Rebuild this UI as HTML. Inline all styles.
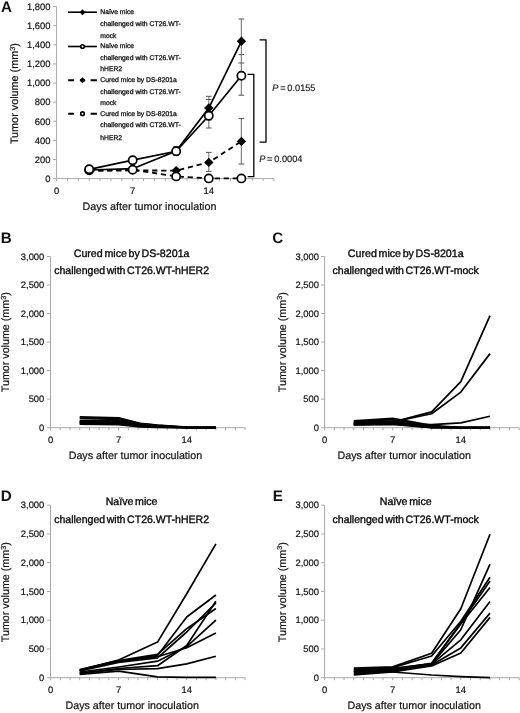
<!DOCTYPE html>
<html lang="en">
<head>
<meta charset="utf-8">
<title>Figure</title>
<style>
html,body{margin:0;padding:0;background:#fff;}
body{width:520px;height:713px;overflow:hidden;}
svg{display:block;font-family:'Liberation Sans', Arial, Helvetica, sans-serif;}
svg text{fill:#111;}
</style>
</head>
<body>
<svg width="520" height="713" viewBox="0 0 520 713" text-rendering="geometricPrecision" font-family="'Liberation Sans', Arial, Helvetica, sans-serif">
<rect width="520" height="713" fill="#fff"/>
<g id="panelA">
<text x="1.0" y="11.8" font-size="15.2" text-anchor="start" font-weight="bold">A</text>
<g stroke="#a8a8a8" stroke-width="1" fill="none">
<path d="M56.6 6.6V178.6H274.0"/>
<path d="M53.1 178.60H56.6M53.1 159.49H56.6M53.1 140.38H56.6M53.1 121.27H56.6M53.1 102.16H56.6M53.1 83.04H56.6M53.1 63.93H56.6M53.1 44.82H56.6M53.1 25.71H56.6M53.1 6.60H56.6M56.60 178.6v2.5M67.47 178.6v2.5M78.34 178.6v2.5M89.21 178.6v2.5M100.08 178.6v2.5M110.95 178.6v2.5M121.82 178.6v2.5M132.69 178.6v2.5M143.56 178.6v2.5M154.43 178.6v2.5M165.30 178.6v2.5M176.17 178.6v2.5M187.04 178.6v2.5M197.91 178.6v2.5M208.78 178.6v2.5M219.65 178.6v2.5M230.52 178.6v2.5M241.39 178.6v2.5M252.26 178.6v2.5M263.13 178.6v2.5M274.00 178.6v2.5"/>
</g>
<text x="50.4" y="181.85" font-size="9.4" text-anchor="end" stroke="#111" stroke-width="0.2">0</text>
<text x="50.4" y="162.74" font-size="9.4" text-anchor="end" stroke="#111" stroke-width="0.2">200</text>
<text x="50.4" y="143.63" font-size="9.4" text-anchor="end" stroke="#111" stroke-width="0.2">400</text>
<text x="50.4" y="124.52" font-size="9.4" text-anchor="end" stroke="#111" stroke-width="0.2">600</text>
<text x="50.4" y="105.41" font-size="9.4" text-anchor="end" stroke="#111" stroke-width="0.2">800</text>
<text x="50.4" y="86.29" font-size="9.4" text-anchor="end" stroke="#111" stroke-width="0.2">1,000</text>
<text x="50.4" y="67.18" font-size="9.4" text-anchor="end" stroke="#111" stroke-width="0.2">1,200</text>
<text x="50.4" y="48.07" font-size="9.4" text-anchor="end" stroke="#111" stroke-width="0.2">1,400</text>
<text x="50.4" y="28.96" font-size="9.4" text-anchor="end" stroke="#111" stroke-width="0.2">1,600</text>
<text x="50.4" y="9.85" font-size="9.4" text-anchor="end" stroke="#111" stroke-width="0.2">1,800</text>
<text x="56.6" y="193.9" font-size="9.4" text-anchor="middle" stroke="#111" stroke-width="0.2">0</text>
<text x="132.69" y="193.9" font-size="9.4" text-anchor="middle" stroke="#111" stroke-width="0.2">7</text>
<text x="208.78" y="193.9" font-size="9.4" text-anchor="middle" stroke="#111" stroke-width="0.2">14</text>
<text x="18.0" y="93.6" font-size="10.8" text-anchor="middle" textLength="101" lengthAdjust="spacingAndGlyphs" transform="rotate(-90 18.0 93.6)" stroke="#111" stroke-width="0.2">Tumor volume (mm<tspan font-size="7.3" dy="-3.4">3</tspan><tspan dy="3.4">)</tspan></text>
<text x="149.5" y="209.9" font-size="10.8" text-anchor="middle" textLength="134" lengthAdjust="spacingAndGlyphs" stroke="#111" stroke-width="0.2">Days after tumor inoculation</text>
<path d="M241.39 19.0V63.0M241.39 54.6V95.2M208.78 96.3V128.0M208.78 99.5V120.0M208.78 152.4V171.4M241.39 118.6V164.0M176.17 146.5V155.5M132.69 156.5V164" stroke="#858585" stroke-width="1.2" fill="none"/>
<path d="M238.48999999999998 19.0h5.8M238.48999999999998 63.0h5.8M238.48999999999998 54.6h5.8M238.48999999999998 95.2h5.8M205.88 96.3h5.8M205.88 128.0h5.8M205.88 99.5h5.8M205.88 120.0h5.8M205.88 152.4h5.8M205.88 171.4h5.8M238.48999999999998 118.6h5.8M238.48999999999998 164.0h5.8M173.26999999999998 146.5h5.8M173.26999999999998 155.5h5.8M129.79 156.5h5.8M129.79 164h5.8" stroke="#555" stroke-width="1" fill="none"/>
<polyline points="89.21,171.0 132.69,170.4 176.17,170.6 208.78,162.4 241.39,141.4" fill="none" stroke="#000" stroke-width="1.8" stroke-dasharray="5.2 3.8"/>
<polyline points="89.21,170.3 132.69,169.8 176.17,176.4 208.78,178.4 241.39,178.4" fill="none" stroke="#000" stroke-width="1.8" stroke-dasharray="5.2 3.8"/>
<polyline points="89.21,170.0 132.69,168.7 176.17,151.0 208.78,108.0 241.39,41.3" fill="none" stroke="#000" stroke-width="1.7"/>
<polyline points="89.21,169.3 132.69,160.2 176.17,151.3 208.78,115.8 241.39,75.7" fill="none" stroke="#000" stroke-width="1.7"/>
<path d="M176.17 165.9L180.86999999999998 170.6L176.17 175.29999999999998L171.47 170.6Z" fill="#000"/>
<path d="M208.78 157.70000000000002L213.48 162.4L208.78 167.1L204.08 162.4Z" fill="#000"/>
<path d="M241.39 136.70000000000002L246.08999999999997 141.4L241.39 146.1L236.69 141.4Z" fill="#000"/>
<path d="M208.78 103.3L213.48 108.0L208.78 112.7L204.08 108.0Z" fill="#000"/>
<path d="M241.39 36.599999999999994L246.08999999999997 41.3L241.39 46.0L236.69 41.3Z" fill="#000"/>
<circle cx="89.21" cy="170.3" r="4.1" fill="#fff" stroke="#000" stroke-width="1.7"/>
<circle cx="132.69" cy="169.8" r="4.1" fill="#fff" stroke="#000" stroke-width="1.7"/>
<circle cx="176.17" cy="176.4" r="4.1" fill="#fff" stroke="#000" stroke-width="1.7"/>
<circle cx="208.78" cy="178.4" r="4.1" fill="#fff" stroke="#000" stroke-width="1.7"/>
<circle cx="241.39" cy="178.4" r="4.1" fill="#fff" stroke="#000" stroke-width="1.7"/>
<circle cx="89.21" cy="169.3" r="4.1" fill="#fff" stroke="#000" stroke-width="1.7"/>
<circle cx="132.69" cy="160.2" r="4.1" fill="#fff" stroke="#000" stroke-width="1.7"/>
<circle cx="176.17" cy="151.3" r="4.1" fill="#fff" stroke="#000" stroke-width="1.7"/>
<circle cx="208.78" cy="115.8" r="4.1" fill="#fff" stroke="#000" stroke-width="1.7"/>
<circle cx="241.39" cy="75.7" r="4.1" fill="#fff" stroke="#000" stroke-width="1.7"/>
<path d="M259.6 39.9H266V142.2H259.6M247.6 74.3H253.8V176.6H247.6" fill="none" stroke="#000" stroke-width="1.3"/>
<text x="272.3" y="91.3" font-size="9.4" text-anchor="start" textLength="43.2" lengthAdjust="spacingAndGlyphs" word-spacing="-0.8" stroke="#111" stroke-width="0.15"><tspan font-style="italic">P</tspan> = 0.0155</text>
<text x="259.2" y="161.6" font-size="9.4" text-anchor="start" textLength="43.2" lengthAdjust="spacingAndGlyphs" word-spacing="-0.8" stroke="#111" stroke-width="0.15"><tspan font-style="italic">P</tspan> = 0.0004</text>
<path d="M68 12.2H97" stroke="#000" stroke-width="1.6" fill="none"/>
<path d="M82.5 9.2L85.5 12.2L82.5 15.2L79.5 12.2Z" fill="#000"/>
<path d="M68 46.5H97" stroke="#000" stroke-width="1.6" fill="none"/>
<circle cx="82.5" cy="46.5" r="1.8" fill="#fff" stroke="#000" stroke-width="1.6"/>
<path d="M68.2 80.3H74M80 80.3H85M90.6 80.3H96.9" stroke="#000" stroke-width="1.9" fill="none"/>
<path d="M82.5 77.3L85.5 80.3L82.5 83.3L79.5 80.3Z" fill="#000"/>
<path d="M68.2 113.7H74M80 113.7H85M90.6 113.7H96.9" stroke="#000" stroke-width="1.9" fill="none"/>
<circle cx="82.5" cy="113.7" r="1.8" fill="#fff" stroke="#000" stroke-width="1.6"/>
<text x="100.3" y="13.9" font-size="6.8" text-anchor="start" textLength="33.8" lengthAdjust="spacingAndGlyphs" stroke="#000" stroke-width="0.25">Naïve mice</text>
<text x="100.3" y="26.0" font-size="6.8" text-anchor="start" textLength="80.5" lengthAdjust="spacingAndGlyphs" stroke="#000" stroke-width="0.25">challenged with CT26.WT-</text>
<text x="100.3" y="38.15" font-size="6.8" text-anchor="start" textLength="16.2" lengthAdjust="spacingAndGlyphs" stroke="#000" stroke-width="0.25">mock</text>
<text x="100.3" y="48.3" font-size="6.8" text-anchor="start" textLength="33.8" lengthAdjust="spacingAndGlyphs" stroke="#000" stroke-width="0.25">Naïve mice</text>
<text x="100.3" y="60.4" font-size="6.8" text-anchor="start" textLength="80.5" lengthAdjust="spacingAndGlyphs" stroke="#000" stroke-width="0.25">challenged with CT26.WT-</text>
<text x="100.3" y="71.4" font-size="6.8" text-anchor="start" textLength="21.8" lengthAdjust="spacingAndGlyphs" stroke="#000" stroke-width="0.25">hHER2</text>
<text x="100.3" y="82.4" font-size="6.8" text-anchor="start" textLength="76.5" lengthAdjust="spacingAndGlyphs" stroke="#000" stroke-width="0.25">Cured mice by DS-8201a</text>
<text x="100.3" y="93.65" font-size="6.8" text-anchor="start" textLength="80.5" lengthAdjust="spacingAndGlyphs" stroke="#000" stroke-width="0.25">challenged with CT26.WT-</text>
<text x="100.3" y="105.4" font-size="6.8" text-anchor="start" textLength="16.2" lengthAdjust="spacingAndGlyphs" stroke="#000" stroke-width="0.25">mock</text>
<text x="100.3" y="115.8" font-size="6.8" text-anchor="start" textLength="76.5" lengthAdjust="spacingAndGlyphs" stroke="#000" stroke-width="0.25">Cured mice by DS-8201a</text>
<text x="100.3" y="127.4" font-size="6.8" text-anchor="start" textLength="80.5" lengthAdjust="spacingAndGlyphs" stroke="#000" stroke-width="0.25">challenged with CT26.WT-</text>
<text x="100.3" y="139.5" font-size="6.8" text-anchor="start" textLength="21.8" lengthAdjust="spacingAndGlyphs" stroke="#000" stroke-width="0.25">hHER2</text>
</g>
<g id="panelB">
<text x="0.7" y="243.3" font-size="15.2" text-anchor="start" font-weight="bold">B</text>
<g stroke="#a8a8a8" stroke-width="1" fill="none">
<path d="M50.5 256.5V427.7H245.1"/>
<path d="M47.0 427.70H50.5M47.0 399.17H50.5M47.0 370.63H50.5M47.0 342.10H50.5M47.0 313.57H50.5M47.0 285.03H50.5M47.0 256.50H50.5M50.50 427.7v2.5M60.23 427.7v2.5M69.96 427.7v2.5M79.69 427.7v2.5M89.42 427.7v2.5M99.15 427.7v2.5M108.88 427.7v2.5M118.61 427.7v2.5M128.34 427.7v2.5M138.07 427.7v2.5M147.80 427.7v2.5M157.53 427.7v2.5M167.26 427.7v2.5M176.99 427.7v2.5M186.72 427.7v2.5M196.45 427.7v2.5M206.18 427.7v2.5M215.91 427.7v2.5M225.64 427.7v2.5M235.37 427.7v2.5M245.10 427.7v2.5"/>
</g>
<text x="44.3" y="430.95" font-size="9.4" text-anchor="end" stroke="#111" stroke-width="0.2">0</text>
<text x="44.3" y="402.42" font-size="9.4" text-anchor="end" stroke="#111" stroke-width="0.2">500</text>
<text x="44.3" y="373.88" font-size="9.4" text-anchor="end" stroke="#111" stroke-width="0.2">1,000</text>
<text x="44.3" y="345.35" font-size="9.4" text-anchor="end" stroke="#111" stroke-width="0.2">1,500</text>
<text x="44.3" y="316.82" font-size="9.4" text-anchor="end" stroke="#111" stroke-width="0.2">2,000</text>
<text x="44.3" y="288.28" font-size="9.4" text-anchor="end" stroke="#111" stroke-width="0.2">2,500</text>
<text x="44.3" y="259.75" font-size="9.4" text-anchor="end" stroke="#111" stroke-width="0.2">3,000</text>
<text x="50.5" y="443.0" font-size="9.4" text-anchor="middle" stroke="#111" stroke-width="0.2">0</text>
<text x="118.61" y="443.0" font-size="9.4" text-anchor="middle" stroke="#111" stroke-width="0.2">7</text>
<text x="186.72" y="443.0" font-size="9.4" text-anchor="middle" stroke="#111" stroke-width="0.2">14</text>
<text x="9.399999999999999" y="342.2" font-size="10.8" text-anchor="middle" textLength="100" lengthAdjust="spacingAndGlyphs" transform="rotate(-90 9.399999999999999 342.2)" stroke="#111" stroke-width="0.2">Tumor volume (mm<tspan font-size="7.3" dy="-3.4">3</tspan><tspan dy="3.4">)</tspan></text>
<text x="131.6" y="256.7" font-size="10.8" text-anchor="middle" textLength="115.8" lengthAdjust="spacingAndGlyphs" stroke="#000" stroke-width="0.35" word-spacing="-1.3">Cured mice by DS-8201a</text>
<text x="131.6" y="273.9" font-size="10.8" text-anchor="middle" textLength="154.8" lengthAdjust="spacingAndGlyphs" stroke="#000" stroke-width="0.35" word-spacing="-1.3">challenged with CT26.WT-hHER2</text>
<text x="135.4" y="458.9" font-size="10.8" text-anchor="middle" textLength="133.5" lengthAdjust="spacingAndGlyphs" stroke="#111" stroke-width="0.2">Days after tumor inoculation</text>
<polyline points="79.69,416.97 118.61,417.88 140.02,423.42 157.53,425.13 186.72,427.13 215.91,427.70" fill="none" stroke="#000" stroke-width="1.7" stroke-linejoin="round"/>
<polyline points="79.69,418.28 118.61,418.28 140.02,423.71 157.53,425.42 186.72,427.24 215.91,427.70" fill="none" stroke="#000" stroke-width="1.7" stroke-linejoin="round"/>
<polyline points="79.69,420.57 118.61,419.71 140.02,424.28 157.53,425.70 186.72,427.41 215.91,427.70" fill="none" stroke="#000" stroke-width="1.7" stroke-linejoin="round"/>
<polyline points="79.69,421.31 118.61,420.85 140.02,424.85 157.53,425.99 186.72,427.41 215.91,427.70" fill="none" stroke="#000" stroke-width="1.7" stroke-linejoin="round"/>
<polyline points="79.69,421.99 118.61,421.99 140.02,425.13 157.53,426.27 186.72,427.70 215.91,427.70" fill="none" stroke="#000" stroke-width="1.7" stroke-linejoin="round"/>
<polyline points="79.69,422.68 118.61,422.85 140.02,425.70 157.53,426.67 186.72,427.70 215.91,427.70" fill="none" stroke="#000" stroke-width="1.7" stroke-linejoin="round"/>
<polyline points="79.69,423.42 118.61,423.71 140.02,426.27 157.53,427.13 186.72,427.70 215.91,427.70" fill="none" stroke="#000" stroke-width="1.7" stroke-linejoin="round"/>
<polyline points="79.69,424.16 118.61,424.56 140.02,426.84 157.53,427.41 186.72,427.70 215.91,427.70" fill="none" stroke="#000" stroke-width="1.7" stroke-linejoin="round"/>
</g>
<g id="panelC">
<text x="272.3" y="243.3" font-size="15.2" text-anchor="start" font-weight="bold">C</text>
<g stroke="#a8a8a8" stroke-width="1" fill="none">
<path d="M324.6 256.5V427.7H519.2"/>
<path d="M321.1 427.70H324.6M321.1 399.17H324.6M321.1 370.63H324.6M321.1 342.10H324.6M321.1 313.57H324.6M321.1 285.03H324.6M321.1 256.50H324.6M324.60 427.7v2.5M334.33 427.7v2.5M344.06 427.7v2.5M353.79 427.7v2.5M363.52 427.7v2.5M373.25 427.7v2.5M382.98 427.7v2.5M392.71 427.7v2.5M402.44 427.7v2.5M412.17 427.7v2.5M421.90 427.7v2.5M431.63 427.7v2.5M441.36 427.7v2.5M451.09 427.7v2.5M460.82 427.7v2.5M470.55 427.7v2.5M480.28 427.7v2.5M490.01 427.7v2.5M499.74 427.7v2.5M509.47 427.7v2.5M519.20 427.7v2.5"/>
</g>
<text x="319.0" y="430.95" font-size="9.4" text-anchor="end" stroke="#111" stroke-width="0.2">0</text>
<text x="319.0" y="402.42" font-size="9.4" text-anchor="end" stroke="#111" stroke-width="0.2">500</text>
<text x="319.0" y="373.88" font-size="9.4" text-anchor="end" stroke="#111" stroke-width="0.2">1,000</text>
<text x="319.0" y="345.35" font-size="9.4" text-anchor="end" stroke="#111" stroke-width="0.2">1,500</text>
<text x="319.0" y="316.82" font-size="9.4" text-anchor="end" stroke="#111" stroke-width="0.2">2,000</text>
<text x="319.0" y="288.28" font-size="9.4" text-anchor="end" stroke="#111" stroke-width="0.2">2,500</text>
<text x="319.0" y="259.75" font-size="9.4" text-anchor="end" stroke="#111" stroke-width="0.2">3,000</text>
<text x="324.6" y="443.0" font-size="9.4" text-anchor="middle" stroke="#111" stroke-width="0.2">0</text>
<text x="392.71" y="443.0" font-size="9.4" text-anchor="middle" stroke="#111" stroke-width="0.2">7</text>
<text x="460.82" y="443.0" font-size="9.4" text-anchor="middle" stroke="#111" stroke-width="0.2">14</text>
<text x="285.8" y="342.2" font-size="10.8" text-anchor="middle" textLength="100" lengthAdjust="spacingAndGlyphs" transform="rotate(-90 285.8 342.2)" stroke="#111" stroke-width="0.2">Tumor volume (mm<tspan font-size="7.3" dy="-3.4">3</tspan><tspan dy="3.4">)</tspan></text>
<text x="405.70000000000005" y="256.7" font-size="10.8" text-anchor="middle" textLength="115.8" lengthAdjust="spacingAndGlyphs" stroke="#000" stroke-width="0.35" word-spacing="-1.3">Cured mice by DS-8201a</text>
<text x="405.70000000000005" y="273.9" font-size="10.8" text-anchor="middle" textLength="146.4" lengthAdjust="spacingAndGlyphs" stroke="#000" stroke-width="0.35" word-spacing="-1.3">challenged with CT26.WT-mock</text>
<text x="404.2" y="458.9" font-size="10.8" text-anchor="middle" textLength="133.5" lengthAdjust="spacingAndGlyphs" stroke="#111" stroke-width="0.2">Days after tumor inoculation</text>
<polyline points="353.79,423.71 392.71,422.16 431.63,411.89 460.82,381.65 490.01,315.68" fill="none" stroke="#000" stroke-width="1.7" stroke-linejoin="round"/>
<polyline points="353.79,424.28 392.71,421.99 431.63,413.78 460.82,392.09 490.01,353.63" fill="none" stroke="#000" stroke-width="1.7" stroke-linejoin="round"/>
<polyline points="353.79,424.56 392.71,424.16 431.63,424.56 460.82,422.85 490.01,416.29" fill="none" stroke="#000" stroke-width="1.7" stroke-linejoin="round"/>
<polyline points="353.79,420.97 392.71,418.28 431.63,425.42 460.82,427.70 490.01,427.70" fill="none" stroke="#000" stroke-width="1.7" stroke-linejoin="round"/>
<polyline points="353.79,421.71 392.71,419.71 431.63,426.27 460.82,427.70 490.01,427.70" fill="none" stroke="#000" stroke-width="1.7" stroke-linejoin="round"/>
<polyline points="353.79,422.45 392.71,421.14 431.63,427.13 460.82,427.70 490.01,427.70" fill="none" stroke="#000" stroke-width="1.7" stroke-linejoin="round"/>
<polyline points="353.79,423.13 392.71,422.28 431.63,426.56 460.82,427.70 490.01,427.70" fill="none" stroke="#000" stroke-width="1.7" stroke-linejoin="round"/>
<polyline points="353.79,423.82 392.71,423.13 431.63,427.41 460.82,427.70 490.01,427.70" fill="none" stroke="#000" stroke-width="1.7" stroke-linejoin="round"/>
<polyline points="353.79,424.39 392.71,423.82 431.63,427.70 460.82,427.70 490.01,427.70" fill="none" stroke="#000" stroke-width="1.7" stroke-linejoin="round"/>
<polyline points="353.79,424.85 392.71,424.28 431.63,427.70 460.82,427.70 490.01,427.70" fill="none" stroke="#000" stroke-width="1.7" stroke-linejoin="round"/>
</g>
<g id="panelD">
<text x="0.7" y="501.2" font-size="15.2" text-anchor="start" font-weight="bold">D</text>
<g stroke="#a8a8a8" stroke-width="1" fill="none">
<path d="M50.5 505.2V677.7H245.1"/>
<path d="M47.0 677.70H50.5M47.0 648.95H50.5M47.0 620.20H50.5M47.0 591.45H50.5M47.0 562.70H50.5M47.0 533.95H50.5M47.0 505.20H50.5M50.50 677.7v2.5M60.23 677.7v2.5M69.96 677.7v2.5M79.69 677.7v2.5M89.42 677.7v2.5M99.15 677.7v2.5M108.88 677.7v2.5M118.61 677.7v2.5M128.34 677.7v2.5M138.07 677.7v2.5M147.80 677.7v2.5M157.53 677.7v2.5M167.26 677.7v2.5M176.99 677.7v2.5M186.72 677.7v2.5M196.45 677.7v2.5M206.18 677.7v2.5M215.91 677.7v2.5M225.64 677.7v2.5M235.37 677.7v2.5M245.10 677.7v2.5"/>
</g>
<text x="44.3" y="680.95" font-size="9.4" text-anchor="end" stroke="#111" stroke-width="0.2">0</text>
<text x="44.3" y="652.2" font-size="9.4" text-anchor="end" stroke="#111" stroke-width="0.2">500</text>
<text x="44.3" y="623.45" font-size="9.4" text-anchor="end" stroke="#111" stroke-width="0.2">1,000</text>
<text x="44.3" y="594.7" font-size="9.4" text-anchor="end" stroke="#111" stroke-width="0.2">1,500</text>
<text x="44.3" y="565.95" font-size="9.4" text-anchor="end" stroke="#111" stroke-width="0.2">2,000</text>
<text x="44.3" y="537.2" font-size="9.4" text-anchor="end" stroke="#111" stroke-width="0.2">2,500</text>
<text x="44.3" y="508.45" font-size="9.4" text-anchor="end" stroke="#111" stroke-width="0.2">3,000</text>
<text x="50.5" y="693.0" font-size="9.4" text-anchor="middle" stroke="#111" stroke-width="0.2">0</text>
<text x="118.61" y="693.0" font-size="9.4" text-anchor="middle" stroke="#111" stroke-width="0.2">7</text>
<text x="186.72" y="693.0" font-size="9.4" text-anchor="middle" stroke="#111" stroke-width="0.2">14</text>
<text x="9.399999999999999" y="592.2" font-size="10.8" text-anchor="middle" textLength="100" lengthAdjust="spacingAndGlyphs" transform="rotate(-90 9.399999999999999 592.2)" stroke="#111" stroke-width="0.2">Tumor volume (mm<tspan font-size="7.3" dy="-3.4">3</tspan><tspan dy="3.4">)</tspan></text>
<text x="131.6" y="505.4" font-size="10.8" text-anchor="middle" textLength="51.8" lengthAdjust="spacingAndGlyphs" stroke="#000" stroke-width="0.35" word-spacing="-1.3">Naïve mice</text>
<text x="131.6" y="522.6" font-size="10.8" text-anchor="middle" textLength="154.8" lengthAdjust="spacingAndGlyphs" stroke="#000" stroke-width="0.35" word-spacing="-1.3">challenged with CT26.WT-hHER2</text>
<text x="132.2" y="708.9" font-size="10.8" text-anchor="middle" textLength="133.5" lengthAdjust="spacingAndGlyphs" stroke="#111" stroke-width="0.2">Days after tumor inoculation</text>
<polyline points="79.69,670.00 118.61,660.00 157.53,642.10 186.72,593.80 215.91,543.90" fill="none" stroke="#000" stroke-width="1.7" stroke-linejoin="round"/>
<polyline points="79.69,670.50 118.61,661.00 157.53,655.60 186.72,617.00 215.91,595.00" fill="none" stroke="#000" stroke-width="1.7" stroke-linejoin="round"/>
<polyline points="79.69,673.00 118.61,668.50 157.53,665.70 186.72,645.50 215.91,601.30" fill="none" stroke="#000" stroke-width="1.7" stroke-linejoin="round"/>
<polyline points="79.69,671.00 118.61,662.50 157.53,657.80 186.72,632.00 215.91,602.90" fill="none" stroke="#000" stroke-width="1.7" stroke-linejoin="round"/>
<polyline points="79.69,669.50 118.61,660.50 157.53,654.40 186.72,628.70 215.91,608.50" fill="none" stroke="#000" stroke-width="1.7" stroke-linejoin="round"/>
<polyline points="79.69,672.00 118.61,667.00 157.53,661.20 186.72,646.60 215.91,620.10" fill="none" stroke="#000" stroke-width="1.7" stroke-linejoin="round"/>
<polyline points="79.69,670.50 118.61,661.50 157.53,656.70 186.72,647.70 215.91,633.10" fill="none" stroke="#000" stroke-width="1.7" stroke-linejoin="round"/>
<polyline points="79.69,673.50 118.61,669.50 157.53,668.60 186.72,663.90 215.91,656.20" fill="none" stroke="#000" stroke-width="1.7" stroke-linejoin="round"/>
<polyline points="79.69,674.40 118.61,671.20 157.53,676.90 186.72,677.30 215.91,677.30" fill="none" stroke="#000" stroke-width="1.7" stroke-linejoin="round"/>
</g>
<g id="panelE">
<text x="272.8" y="501.2" font-size="15.2" text-anchor="start" font-weight="bold">E</text>
<g stroke="#a8a8a8" stroke-width="1" fill="none">
<path d="M324.6 505.2V677.7H519.2"/>
<path d="M321.1 677.70H324.6M321.1 648.95H324.6M321.1 620.20H324.6M321.1 591.45H324.6M321.1 562.70H324.6M321.1 533.95H324.6M321.1 505.20H324.6M324.60 677.7v2.5M334.33 677.7v2.5M344.06 677.7v2.5M353.79 677.7v2.5M363.52 677.7v2.5M373.25 677.7v2.5M382.98 677.7v2.5M392.71 677.7v2.5M402.44 677.7v2.5M412.17 677.7v2.5M421.90 677.7v2.5M431.63 677.7v2.5M441.36 677.7v2.5M451.09 677.7v2.5M460.82 677.7v2.5M470.55 677.7v2.5M480.28 677.7v2.5M490.01 677.7v2.5M499.74 677.7v2.5M509.47 677.7v2.5M519.20 677.7v2.5"/>
</g>
<text x="319.0" y="680.95" font-size="9.4" text-anchor="end" stroke="#111" stroke-width="0.2">0</text>
<text x="319.0" y="652.2" font-size="9.4" text-anchor="end" stroke="#111" stroke-width="0.2">500</text>
<text x="319.0" y="623.45" font-size="9.4" text-anchor="end" stroke="#111" stroke-width="0.2">1,000</text>
<text x="319.0" y="594.7" font-size="9.4" text-anchor="end" stroke="#111" stroke-width="0.2">1,500</text>
<text x="319.0" y="565.95" font-size="9.4" text-anchor="end" stroke="#111" stroke-width="0.2">2,000</text>
<text x="319.0" y="537.2" font-size="9.4" text-anchor="end" stroke="#111" stroke-width="0.2">2,500</text>
<text x="319.0" y="508.45" font-size="9.4" text-anchor="end" stroke="#111" stroke-width="0.2">3,000</text>
<text x="324.6" y="693.0" font-size="9.4" text-anchor="middle" stroke="#111" stroke-width="0.2">0</text>
<text x="392.71" y="693.0" font-size="9.4" text-anchor="middle" stroke="#111" stroke-width="0.2">7</text>
<text x="460.82" y="693.0" font-size="9.4" text-anchor="middle" stroke="#111" stroke-width="0.2">14</text>
<text x="285.8" y="592.2" font-size="10.8" text-anchor="middle" textLength="100" lengthAdjust="spacingAndGlyphs" transform="rotate(-90 285.8 592.2)" stroke="#111" stroke-width="0.2">Tumor volume (mm<tspan font-size="7.3" dy="-3.4">3</tspan><tspan dy="3.4">)</tspan></text>
<text x="405.70000000000005" y="505.4" font-size="10.8" text-anchor="middle" textLength="51.8" lengthAdjust="spacingAndGlyphs" stroke="#000" stroke-width="0.35" word-spacing="-1.3">Naïve mice</text>
<text x="405.70000000000005" y="522.6" font-size="10.8" text-anchor="middle" textLength="146.4" lengthAdjust="spacingAndGlyphs" stroke="#000" stroke-width="0.35" word-spacing="-1.3">challenged with CT26.WT-mock</text>
<text x="414.2" y="708.9" font-size="10.8" text-anchor="middle" textLength="133.5" lengthAdjust="spacingAndGlyphs" stroke="#111" stroke-width="0.2">Days after tumor inoculation</text>
<polyline points="353.79,668.00 392.71,666.90 431.63,653.30 460.82,608.80 490.01,534.30" fill="none" stroke="#000" stroke-width="1.7" stroke-linejoin="round"/>
<polyline points="353.79,669.00 392.71,668.30 431.63,663.90 460.82,629.70 490.01,564.20" fill="none" stroke="#000" stroke-width="1.7" stroke-linejoin="round"/>
<polyline points="353.79,670.00 392.71,667.60 431.63,656.00 460.82,621.20 490.01,577.30" fill="none" stroke="#000" stroke-width="1.7" stroke-linejoin="round"/>
<polyline points="353.79,671.00 392.71,669.00 431.63,663.30 460.82,623.00 490.01,580.90" fill="none" stroke="#000" stroke-width="1.7" stroke-linejoin="round"/>
<polyline points="353.79,672.00 392.71,669.70 431.63,663.60 460.82,624.00 490.01,587.50" fill="none" stroke="#000" stroke-width="1.7" stroke-linejoin="round"/>
<polyline points="353.79,673.00 392.71,670.40 431.63,664.20 460.82,639.80 490.01,601.60" fill="none" stroke="#000" stroke-width="1.7" stroke-linejoin="round"/>
<polyline points="353.79,674.00 392.71,671.10 431.63,665.00 460.82,647.90 490.01,613.10" fill="none" stroke="#000" stroke-width="1.7" stroke-linejoin="round"/>
<polyline points="353.79,674.90 392.71,671.80 431.63,666.00 460.82,653.00 490.01,617.40" fill="none" stroke="#000" stroke-width="1.7" stroke-linejoin="round"/>
<polyline points="353.79,671.50 392.71,672.00 431.63,675.00 460.82,676.60 490.01,677.70" fill="none" stroke="#000" stroke-width="1.7" stroke-linejoin="round"/>
</g>
</svg>
</body>
</html>
